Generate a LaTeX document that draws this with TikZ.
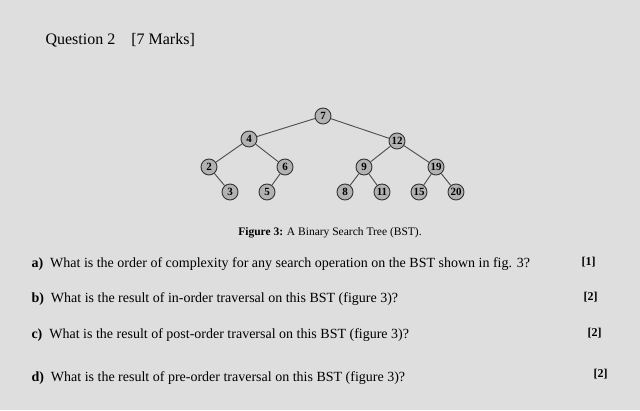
\documentclass[tikz,border=0pt]{standalone}
\usepackage{fontspec}
\setmainfont{Liberation Serif}
\begin{document}
\begin{tikzpicture}[x=1pt,y=-1pt,
  nd/.style={circle,draw=black!80,fill=black!30,line width=0.9pt,inner sep=0pt,minimum size=16pt,font=\fontsize{11}{11}\selectfont\bfseries},
  ed/.style={draw=black!70,line width=0.9pt},
  q/.style={anchor=west,font=\fontsize{14}{14}\selectfont},
  mk/.style={anchor=west,font=\fontsize{12}{12}\selectfont\bfseries}]
\fill[black!13] (0,0) rectangle (640,410);
\useasboundingbox (0,0) rectangle (640,410);
\node[anchor=west,font=\fontsize{16}{16}\selectfont] (title) at (42,40) {Question 2\quad[7 Marks]};
\node[nd] (n7) at (323,116) {7};
\node[nd] (n4) at (249,139) {4};
\node[nd] (n12) at (397,141) {12};
\node[nd] (n2) at (209,167) {2};
\node[nd] (n6) at (285,167) {6};
\node[nd] (n9) at (364,167) {9};
\node[nd] (n19) at (436,167) {19};
\node[nd] (n3) at (230,192) {3};
\node[nd] (n5) at (267,192) {5};
\node[nd] (n8) at (345,192) {8};
\node[nd] (n11) at (382,192) {11};
\node[nd] (n15) at (419,192) {15};
\node[nd] (n20) at (456,192) {20};
\foreach \a/\b in {n7/n4,n7/n12,n4/n2,n4/n6,n2/n3,n6/n5,n12/n9,n12/n19,n9/n8,n9/n11,n19/n15,n19/n20}
  \draw[ed] (\a) -- (\b);
\node[font=\fontsize{11.5}{11.5}\selectfont] (cap) at (330,233) {\textbf{Figure 3:} A Binary Search Tree (BST).};
\node[q] (qa) at (28,264) {\textbf{a)}\ \ What is the order of complexity for any search operation on the BST shown in fig. 3?};
\node[q] (qb) at (28,299) {\textbf{b)}\ \ What is the result of in-order traversal on this BST (figure 3)?};
\node[q] (qc) at (28,335) {\textbf{c)}\ \ What is the result of post-order traversal on this BST (figure 3)?};
\node[q] (qd) at (28,378) {\textbf{d)}\ \ What is the result of pre-order traversal on this BST (figure 3)?};
\node[mk] (ma) at (578,262) {[1]};
\node[mk] (mb) at (580,297) {[2]};
\node[mk] (mc) at (584,333) {[2]};
\node[mk] (md) at (590,374) {[2]};
\end{tikzpicture}
\end{document}
